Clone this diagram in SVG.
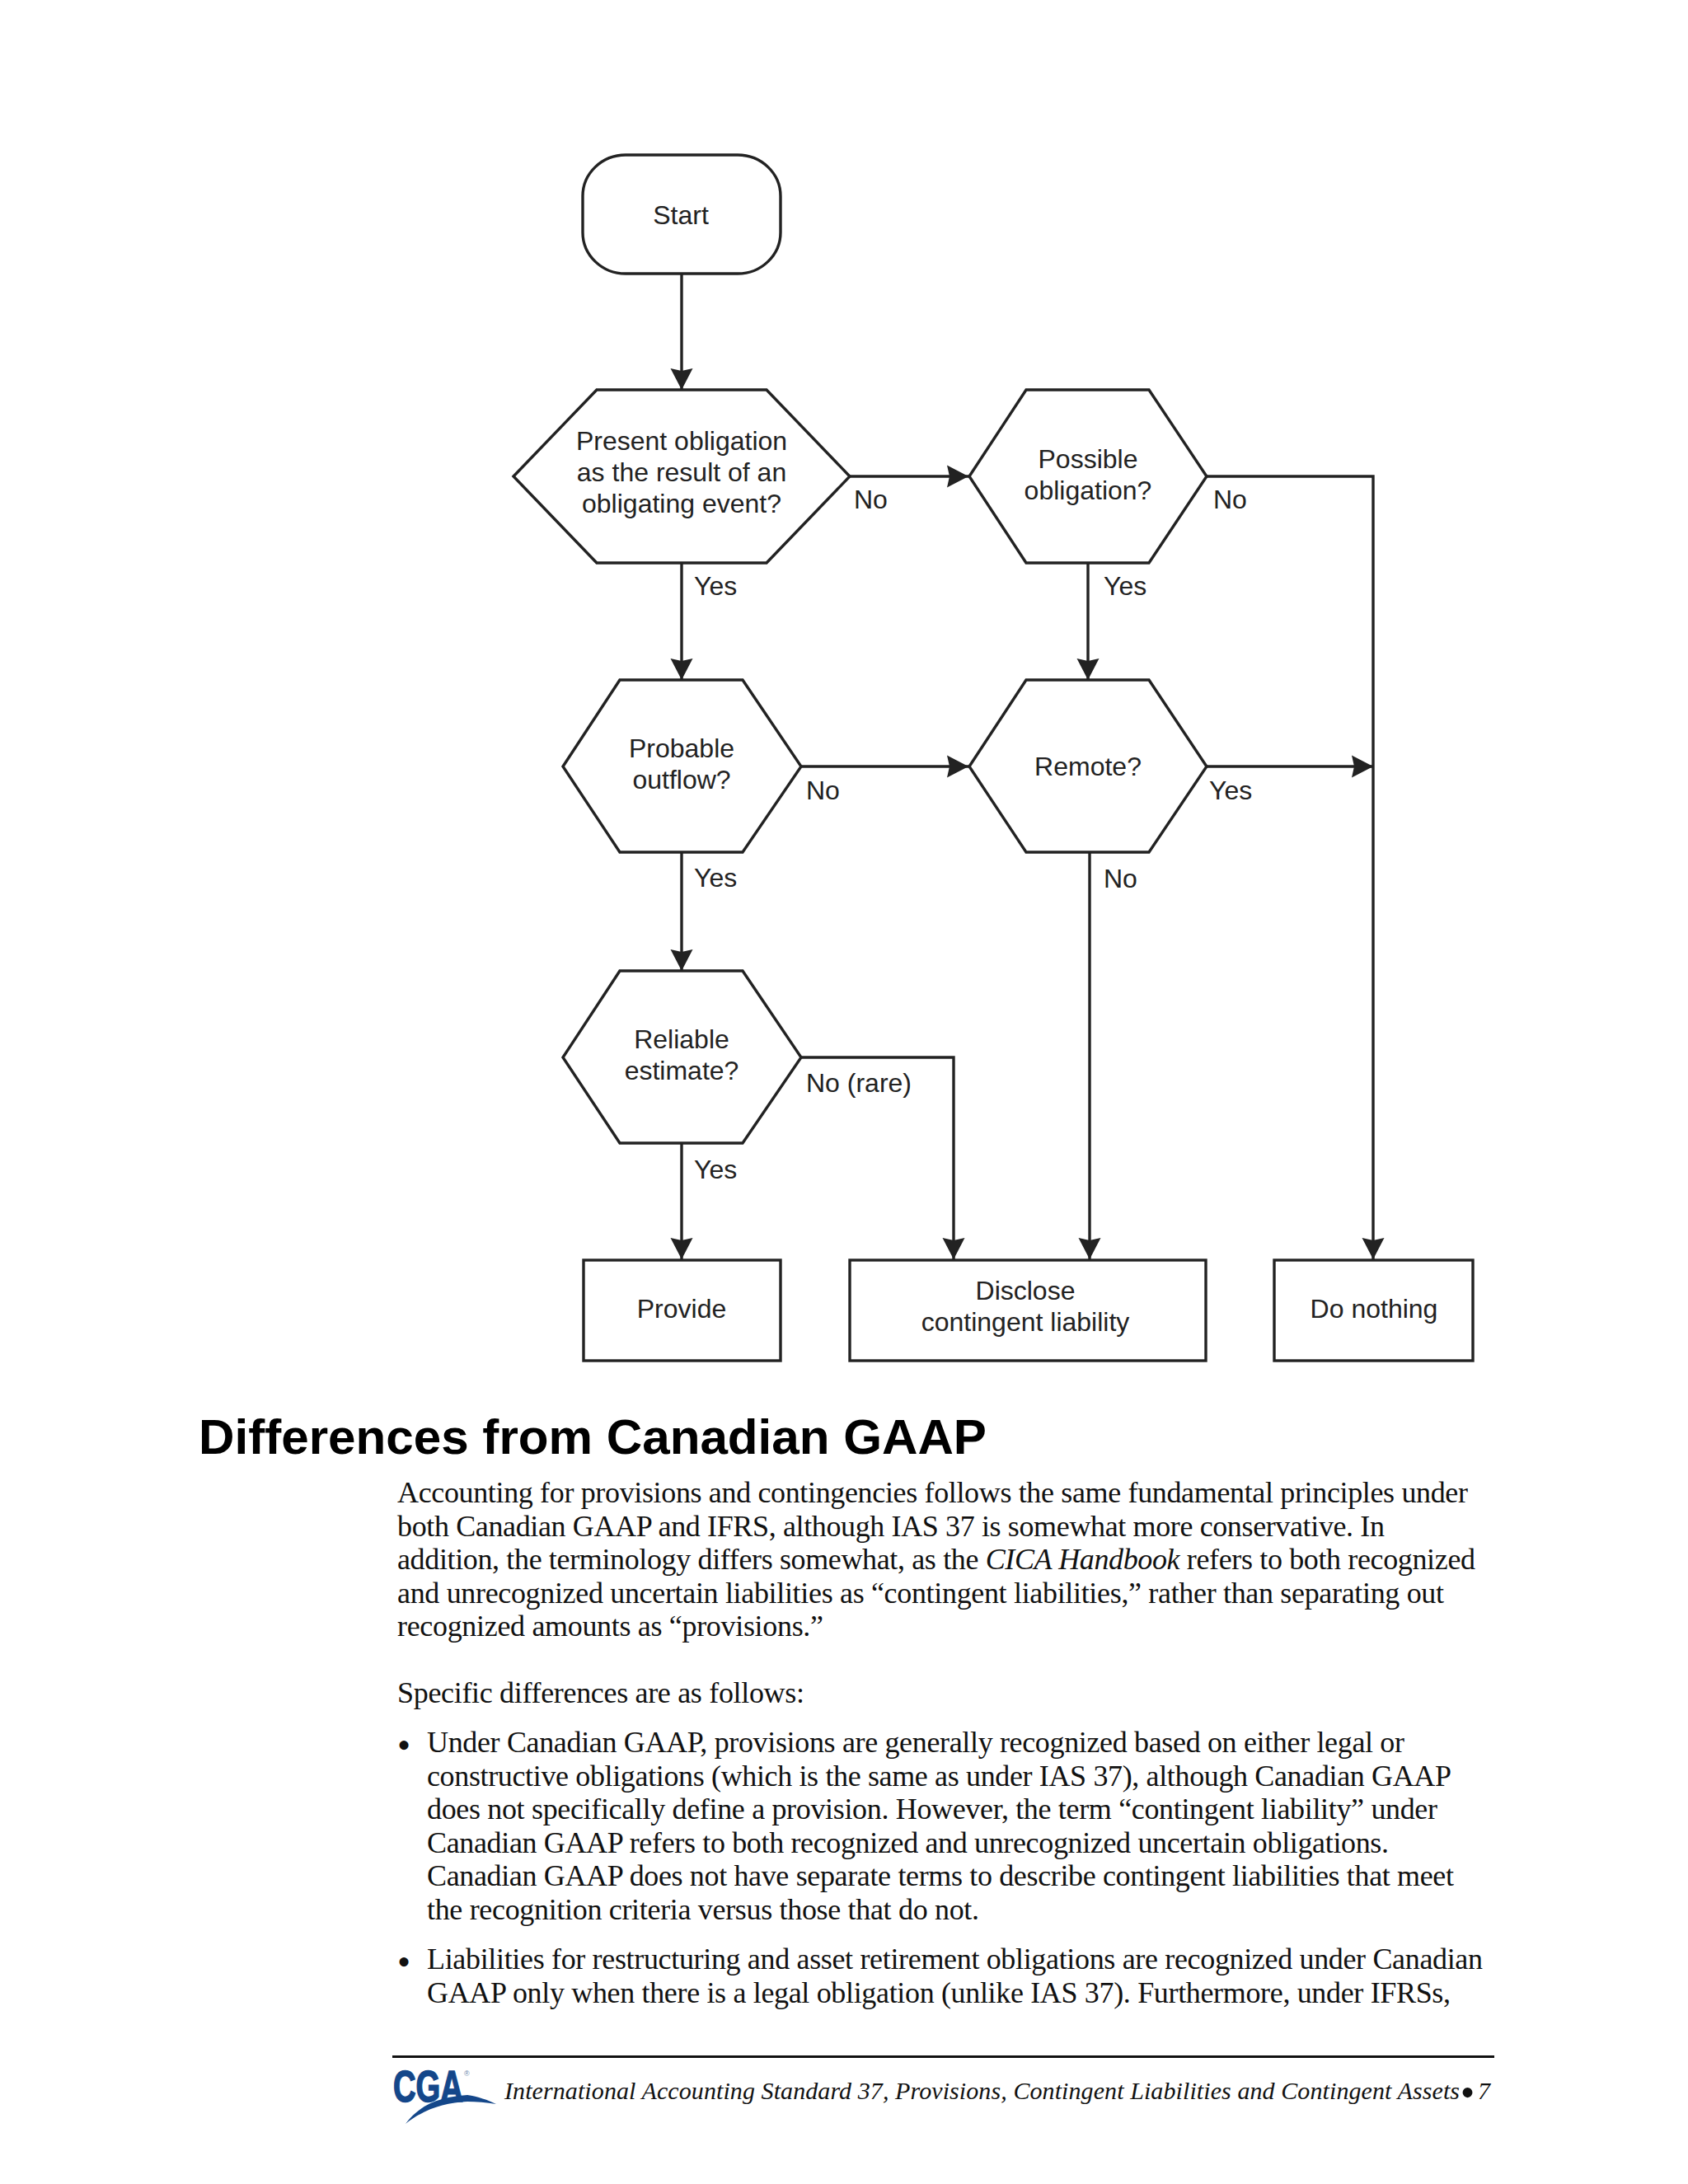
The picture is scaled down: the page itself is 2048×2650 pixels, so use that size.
<svg xmlns="http://www.w3.org/2000/svg" width="2048" height="2650" viewBox="0 0 2048 2650">
<style>
.s{fill:#fff;stroke:#222;stroke-width:3.4;stroke-linejoin:miter}
.c{fill:none;stroke:#222;stroke-width:3.4}
.t{font-family:"Liberation Sans",Arial,sans-serif;font-size:32px;fill:#222;text-anchor:middle}
.l{font-family:"Liberation Sans",Arial,sans-serif;font-size:32px;fill:#222}
.b{font-family:"Liberation Serif","Times New Roman",serif;font-size:36px;fill:#111}
.d{font-family:"Liberation Serif","Times New Roman",serif;font-size:46px;fill:#111;text-anchor:middle}
.h{font-family:"Liberation Sans",Arial,sans-serif;font-size:60px;font-weight:bold;fill:#000}
.f{font-family:"Liberation Serif","Times New Roman",serif;font-size:30px;font-style:italic;fill:#111}
</style>
<defs><marker id="a" markerUnits="userSpaceOnUse" markerWidth="28" markerHeight="28" refX="26" refY="14" orient="auto"><path d="M0 0.500L26 14L0 27.500L3 14Z" fill="#222"/></marker></defs>
<rect width="2048" height="2650" fill="#fff"/>
<g id="connectors">
<path class="c" marker-end="url(#a)" d="M827 332V473"/>
<path class="c" marker-end="url(#a)" d="M1031 578H1175"/>
<path class="c" marker-end="url(#a)" d="M827 683V825"/>
<path class="c" marker-end="url(#a)" d="M1320 683V825"/>
<path class="c" marker-end="url(#a)" d="M1464 578H1666V1528"/>
<path class="c" marker-end="url(#a)" d="M972 930H1175"/>
<path class="c" marker-end="url(#a)" d="M1464 930H1666"/>
<path class="c" marker-end="url(#a)" d="M827 1034V1178"/>
<path class="c" marker-end="url(#a)" d="M1322 1034V1528"/>
<path class="c" marker-end="url(#a)" d="M972 1283H1157V1528"/>
<path class="c" marker-end="url(#a)" d="M827 1387V1528"/>
</g>
<g id="start"><rect class="s" x="707" y="188" width="240" height="144" rx="52" ry="50"/><text class="t" x="826" y="272">Start</text></g>
<g id="present"><path class="s" d="M623 578L724 473H930L1031 578L930 683H724Z"/><text class="t"><tspan x="827" y="546">Present obligation</tspan><tspan x="827" y="584">as the result of an</tspan><tspan x="827" y="622">obligating event?</tspan></text></g>
<g id="possible"><path class="s" d="M1176 578L1245 473H1394L1464 578L1394 683H1245Z"/><text class="t"><tspan x="1320" y="568">Possible</tspan><tspan x="1320" y="606">obligation?</tspan></text></g>
<g id="probable"><path class="s" d="M683 930L752 825H901L972 930L901 1034H752Z"/><text class="t"><tspan x="827" y="919">Probable</tspan><tspan x="827" y="957">outflow?</tspan></text></g>
<g id="remote"><path class="s" d="M1176 930L1245 825H1394L1464 930L1394 1034H1245Z"/><text class="t" x="1320" y="941">Remote?</text></g>
<g id="reliable"><path class="s" d="M683 1283L752 1178H901L972 1283L901 1387H752Z"/><text class="t"><tspan x="827" y="1272">Reliable</tspan><tspan x="827" y="1310">estimate?</tspan></text></g>
<g id="provide"><rect class="s" x="708" y="1529" width="239" height="122"/><text class="t" x="827" y="1599">Provide</text></g>
<g id="disclose"><rect class="s" x="1031" y="1529" width="432" height="122"/><text class="t"><tspan x="1244" y="1577">Disclose</tspan><tspan x="1244" y="1615">contingent liability</tspan></text></g>
<g id="nothing"><rect class="s" x="1546" y="1529" width="241" height="122"/><text class="t" x="1667" y="1599">Do nothing</text></g>
<g id="labels">
<text class="l" x="1036" y="617">No</text><text class="l" x="842" y="722">Yes</text>
<text class="l" x="1472" y="617">No</text><text class="l" x="1339" y="722">Yes</text>
<text class="l" x="978" y="970">No</text><text class="l" x="1467" y="970">Yes</text>
<text class="l" x="842" y="1076">Yes</text><text class="l" x="1339" y="1077">No</text>
<text class="l" x="978" y="1325">No (rare)</text><text class="l" x="842" y="1430">Yes</text>
</g>
<g id="text">
<text class="h" x="241" y="1764" textLength="956" lengthAdjust="spacingAndGlyphs">Differences from Canadian GAAP</text>
<text class="b" x="482" y="1823" textLength="1299">Accounting for provisions and contingencies follows the same fundamental principles under</text>
<text class="b" x="482" y="1864" textLength="1198">both Canadian GAAP and IFRS, although IAS 37 is somewhat more conservative. In</text>
<text class="b" x="482" y="1904" textLength="1308">addition, the terminology differs somewhat, as the <tspan font-style="italic">CICA Handbook</tspan> refers to both recognized</text>
<text class="b" x="482" y="1945" textLength="1270">and unrecognized uncertain liabilities as “contingent liabilities,” rather than separating out</text>
<text class="b" x="482" y="1985" textLength="517">recognized amounts as “provisions.”</text>
<text class="b" x="482" y="2066" textLength="494">Specific differences are as follows:</text>
<text class="d" x="490" y="2133">•</text>
<text class="b" x="518" y="2126" textLength="1186">Under Canadian GAAP, provisions are generally recognized based on either legal or</text>
<text class="b" x="518" y="2167" textLength="1243">constructive obligations (which is the same as under IAS 37), although Canadian GAAP</text>
<text class="b" x="518" y="2207" textLength="1226">does not specifically define a provision. However, the term “contingent liability” under</text>
<text class="b" x="518" y="2248" textLength="1167">Canadian GAAP refers to both recognized and unrecognized uncertain obligations.</text>
<text class="b" x="518" y="2288" textLength="1246">Canadian GAAP does not have separate terms to describe contingent liabilities that meet</text>
<text class="b" x="518" y="2329" textLength="670">the recognition criteria versus those that do not.</text>
<text class="d" x="490" y="2396">•</text>
<text class="b" x="518" y="2389" textLength="1281">Liabilities for restructuring and asset retirement obligations are recognized under Canadian</text>
<text class="b" x="518" y="2430" textLength="1242">GAAP only when there is a legal obligation (unlike IAS 37). Furthermore, under IFRSs,</text>
<path d="M476 2495.500H1813" stroke="#111" stroke-width="3"/>
<text class="f" x="612" y="2547" textLength="1159">International Accounting Standard 37, Provisions, Contingent Liabilities and Contingent Assets</text>
<text class="f" x="1780" y="2556" style="font-size:50px;text-anchor:middle">•</text>
<text class="f" x="1793" y="2547">7</text>
</g>
<g id="logo">
<text x="477" y="2550" textLength="85" lengthAdjust="spacingAndGlyphs" style="font-family:'Liberation Sans',sans-serif;font-size:53px;font-weight:bold;fill:#14478a;stroke:#14478a;stroke-width:1.500">CGA</text>
<path d="M492 2577C512 2550 540 2544 567 2542C580 2544 592 2548 602 2553C590 2551 578 2550 567 2550C540 2551 515 2559 492 2577Z" fill="#14478a"/>
<text x="563" y="2519" style="font-family:'Liberation Sans',sans-serif;font-size:9px;fill:#6d87aa">®</text>
</g>
</svg>
